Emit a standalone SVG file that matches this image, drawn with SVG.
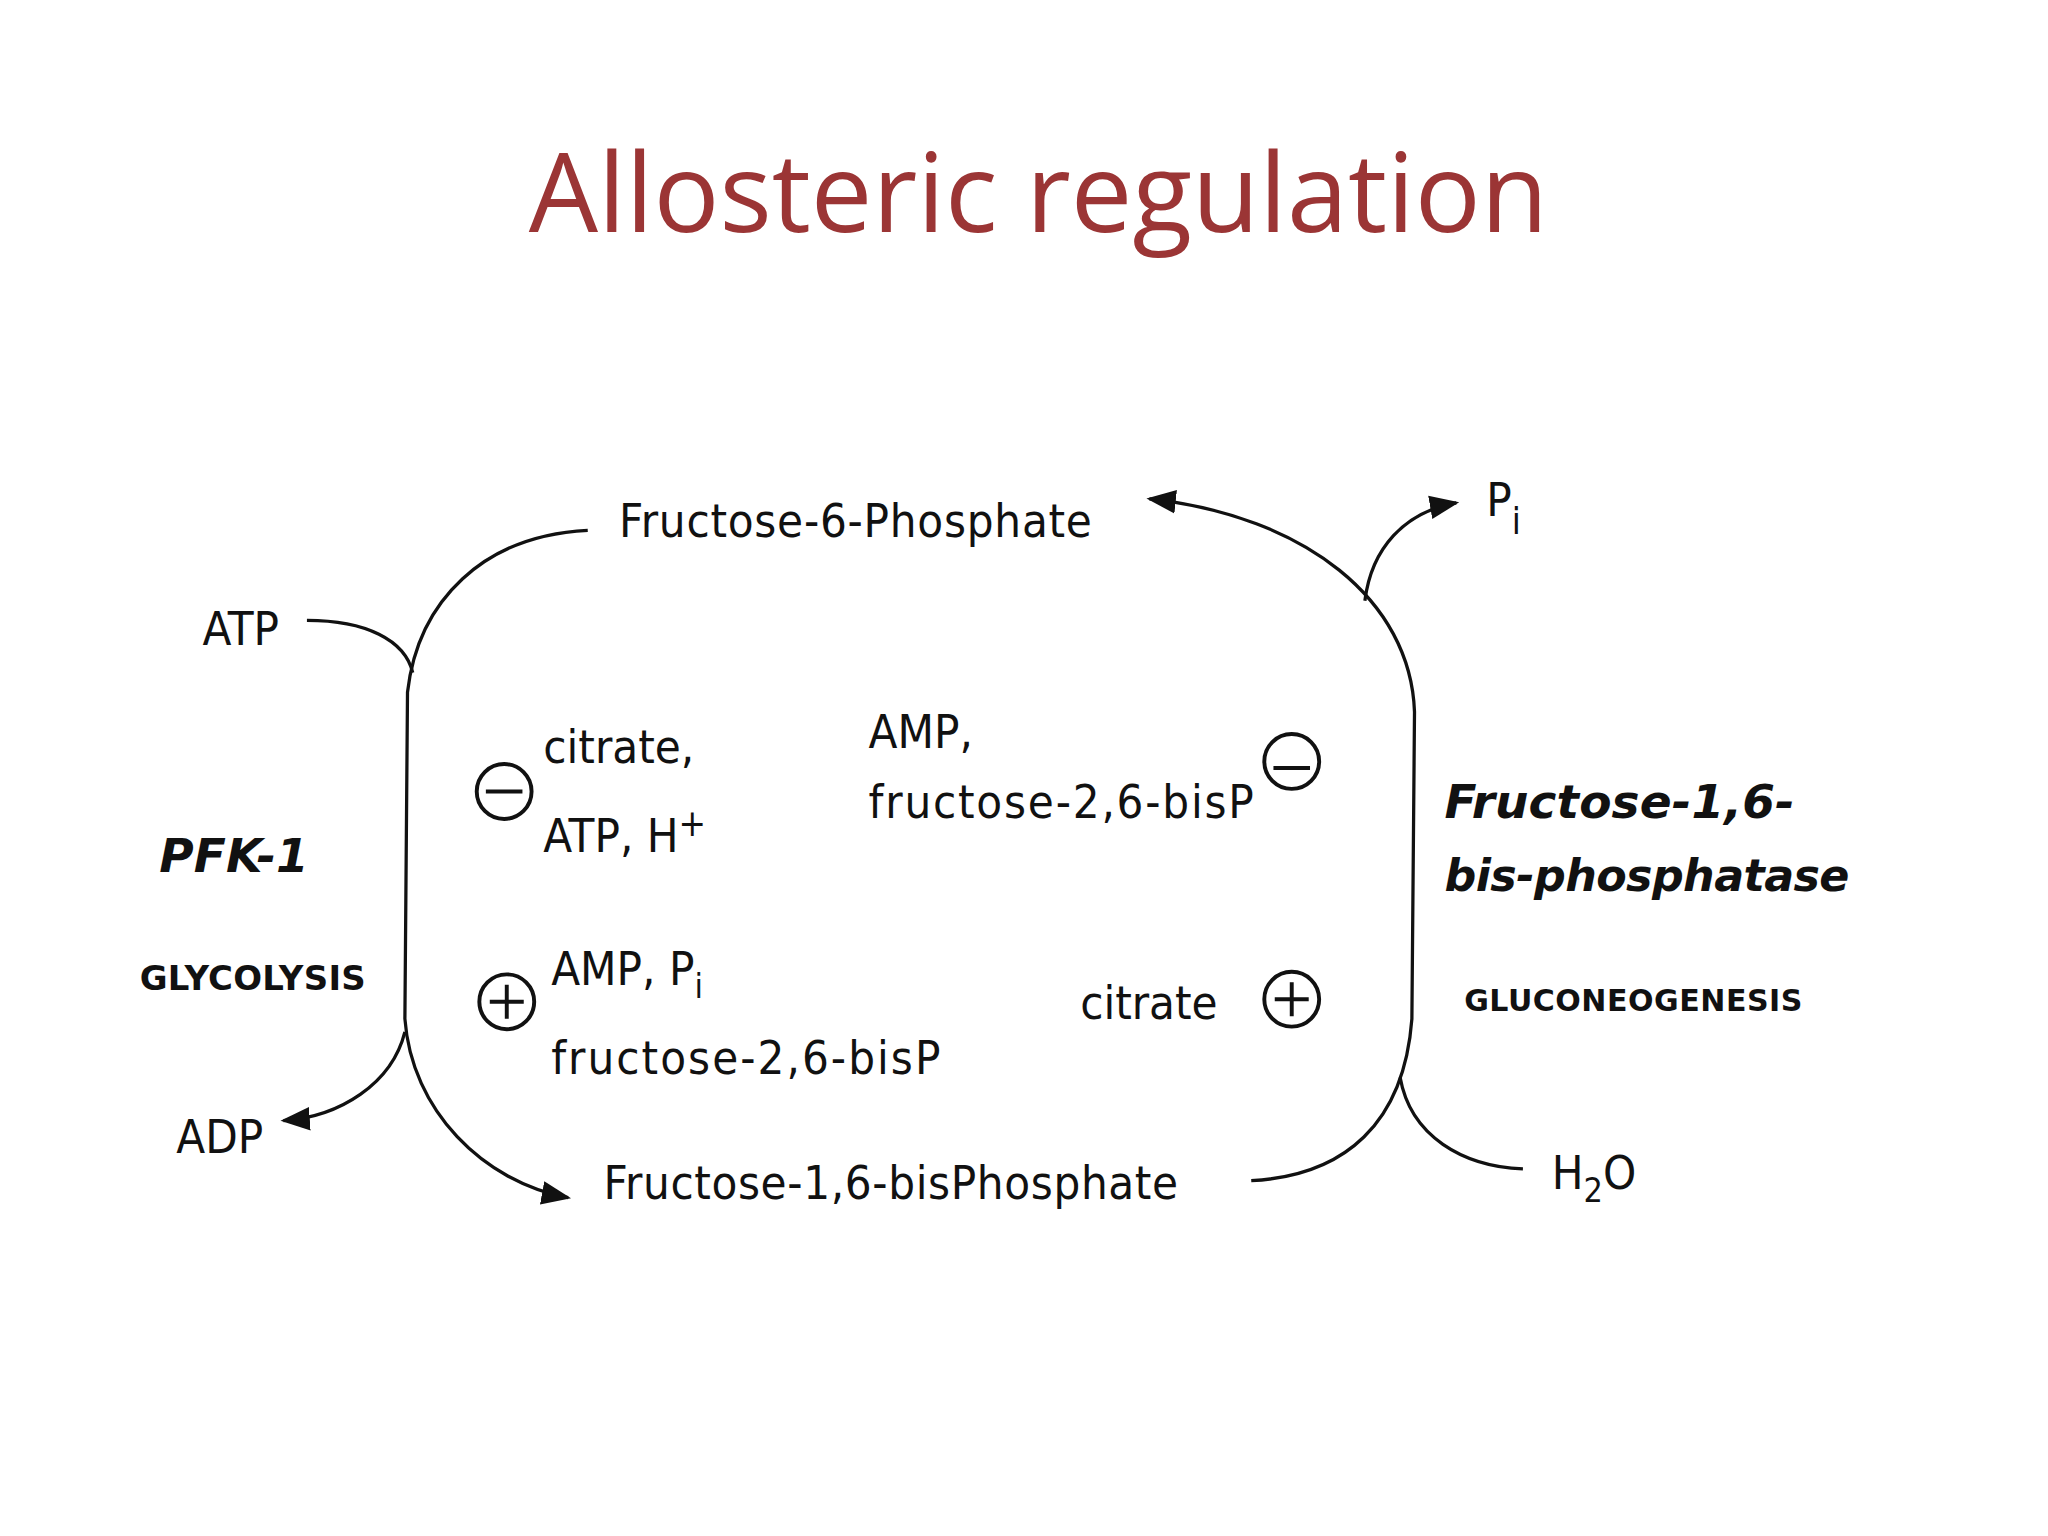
<svg xmlns="http://www.w3.org/2000/svg" width="2048" height="1536" viewBox="0 0 2048 1536">
<style>
.t{font-family:"DejaVu Sans Condensed","DejaVu Sans",sans-serif;font-size:36px;fill:#111}
.b{font-family:"DejaVu Sans",sans-serif;font-size:26px;font-weight:bold;fill:#111}
.bi{font-family:"DejaVu Sans",sans-serif;font-size:36px;font-weight:bold;font-style:italic;fill:#111}
.l{fill:none;stroke:#111;stroke-width:2.5}
.c{fill:none;stroke:#111;stroke-width:3}
</style>
<defs><marker id="m" viewBox="0 0 10 10" refX="9" refY="5" markerWidth="9" markerHeight="9" orient="auto"><path d="M0,1 L10,5 L0,9 z" fill="#111"/></marker></defs>
<rect width="2048" height="1536" fill="#fff"/>
<g transform="scale(1.3061)">
<text x="795" y="178" text-anchor="middle" font-family="Open Sans,sans-serif" font-size="84" fill="#9b3535">Allosteric regulation</text>
<g id="connectors">
<path class="l" d="M450,406 C370,410 320,460 312,530 L310,780 C315,850 370,905 435,917" marker-end="url(#m)"/>
<path class="l" d="M958,904 C1030,900 1075,860 1081,780 L1083,545 C1080,460 1000,395 880,382" marker-end="url(#m)"/>
<path class="l" d="M235,475 C280,475 310,490 316,515"/>
<path class="l" d="M310,790 C300,830 260,855 217,858" marker-end="url(#m)"/>
<path class="l" d="M1045,460 C1050,420 1075,392 1115,385" marker-end="url(#m)"/>
<path class="l" d="M1072,825 C1080,870 1120,893 1166,895"/>
</g>
<g id="f6p"><text class="t" x="474" y="411" textLength="362">Fructose-6-Phosphate</text></g>
<g id="f16bp"><text class="t" x="462" y="918" textLength="440">Fructose-1,6-bisPhosphate</text></g>
<g id="atp"><text class="t" x="155" y="494">ATP</text></g>
<g id="adp"><text class="t" x="135" y="883">ADP</text></g>
<g id="pi"><text class="t" x="1138" y="395">P<tspan font-size="28" dy="14">i</tspan></text></g>
<g id="h2o"><text class="t" x="1188" y="910">H<tspan font-size="26" dy="10">2</tspan><tspan dy="-10">O</tspan></text></g>
<g id="pfk"><text class="bi" x="122" y="668">PFK-1</text><text class="b" x="107" y="758" textLength="173">GLYCOLYSIS</text></g>
<g id="fbpase"><text class="bi" x="1106" y="626" textLength="268">Fructose-1,6-</text><text class="bi" x="1106" y="682" style="font-size:34px" textLength="310">bis-phosphatase</text><text class="b" x="1121" y="774" style="font-size:23px" textLength="259">GLUCONEOGENESIS</text></g>
<g id="inh1"><circle class="c" cx="386" cy="606" r="21"/><line class="c" x1="372" y1="606" x2="400" y2="606" stroke-width="4"/>
<text class="t" x="416" y="584">citrate,</text><text class="t" x="416" y="652">ATP, H<tspan dy="-12" font-size="28">+</tspan></text></g>
<g id="act1"><circle class="c" cx="388" cy="767" r="21"/><path class="c" d="M375,767 H401 M388,754 V780" stroke-width="4"/>
<text class="t" x="422" y="754">AMP,  P<tspan font-size="26" dy="10">i</tspan></text><text class="t" x="422" y="822" textLength="298">fructose-2,6-bisP</text></g>
<g id="inh2"><text class="t" x="665" y="573">AMP,</text><text class="t" x="665" y="626" textLength="295">fructose-2,6-bisP</text>
<circle class="c" cx="989" cy="583" r="21"/><line class="c" x1="975" y1="588" x2="1003" y2="588" stroke-width="4"/></g>
<g id="act2"><text class="t" x="827" y="780">citrate</text><circle class="c" cx="989" cy="765" r="21"/><path class="c" d="M976,765 H1002 M989,752 V778" stroke-width="4"/></g>
</g>
</svg>
